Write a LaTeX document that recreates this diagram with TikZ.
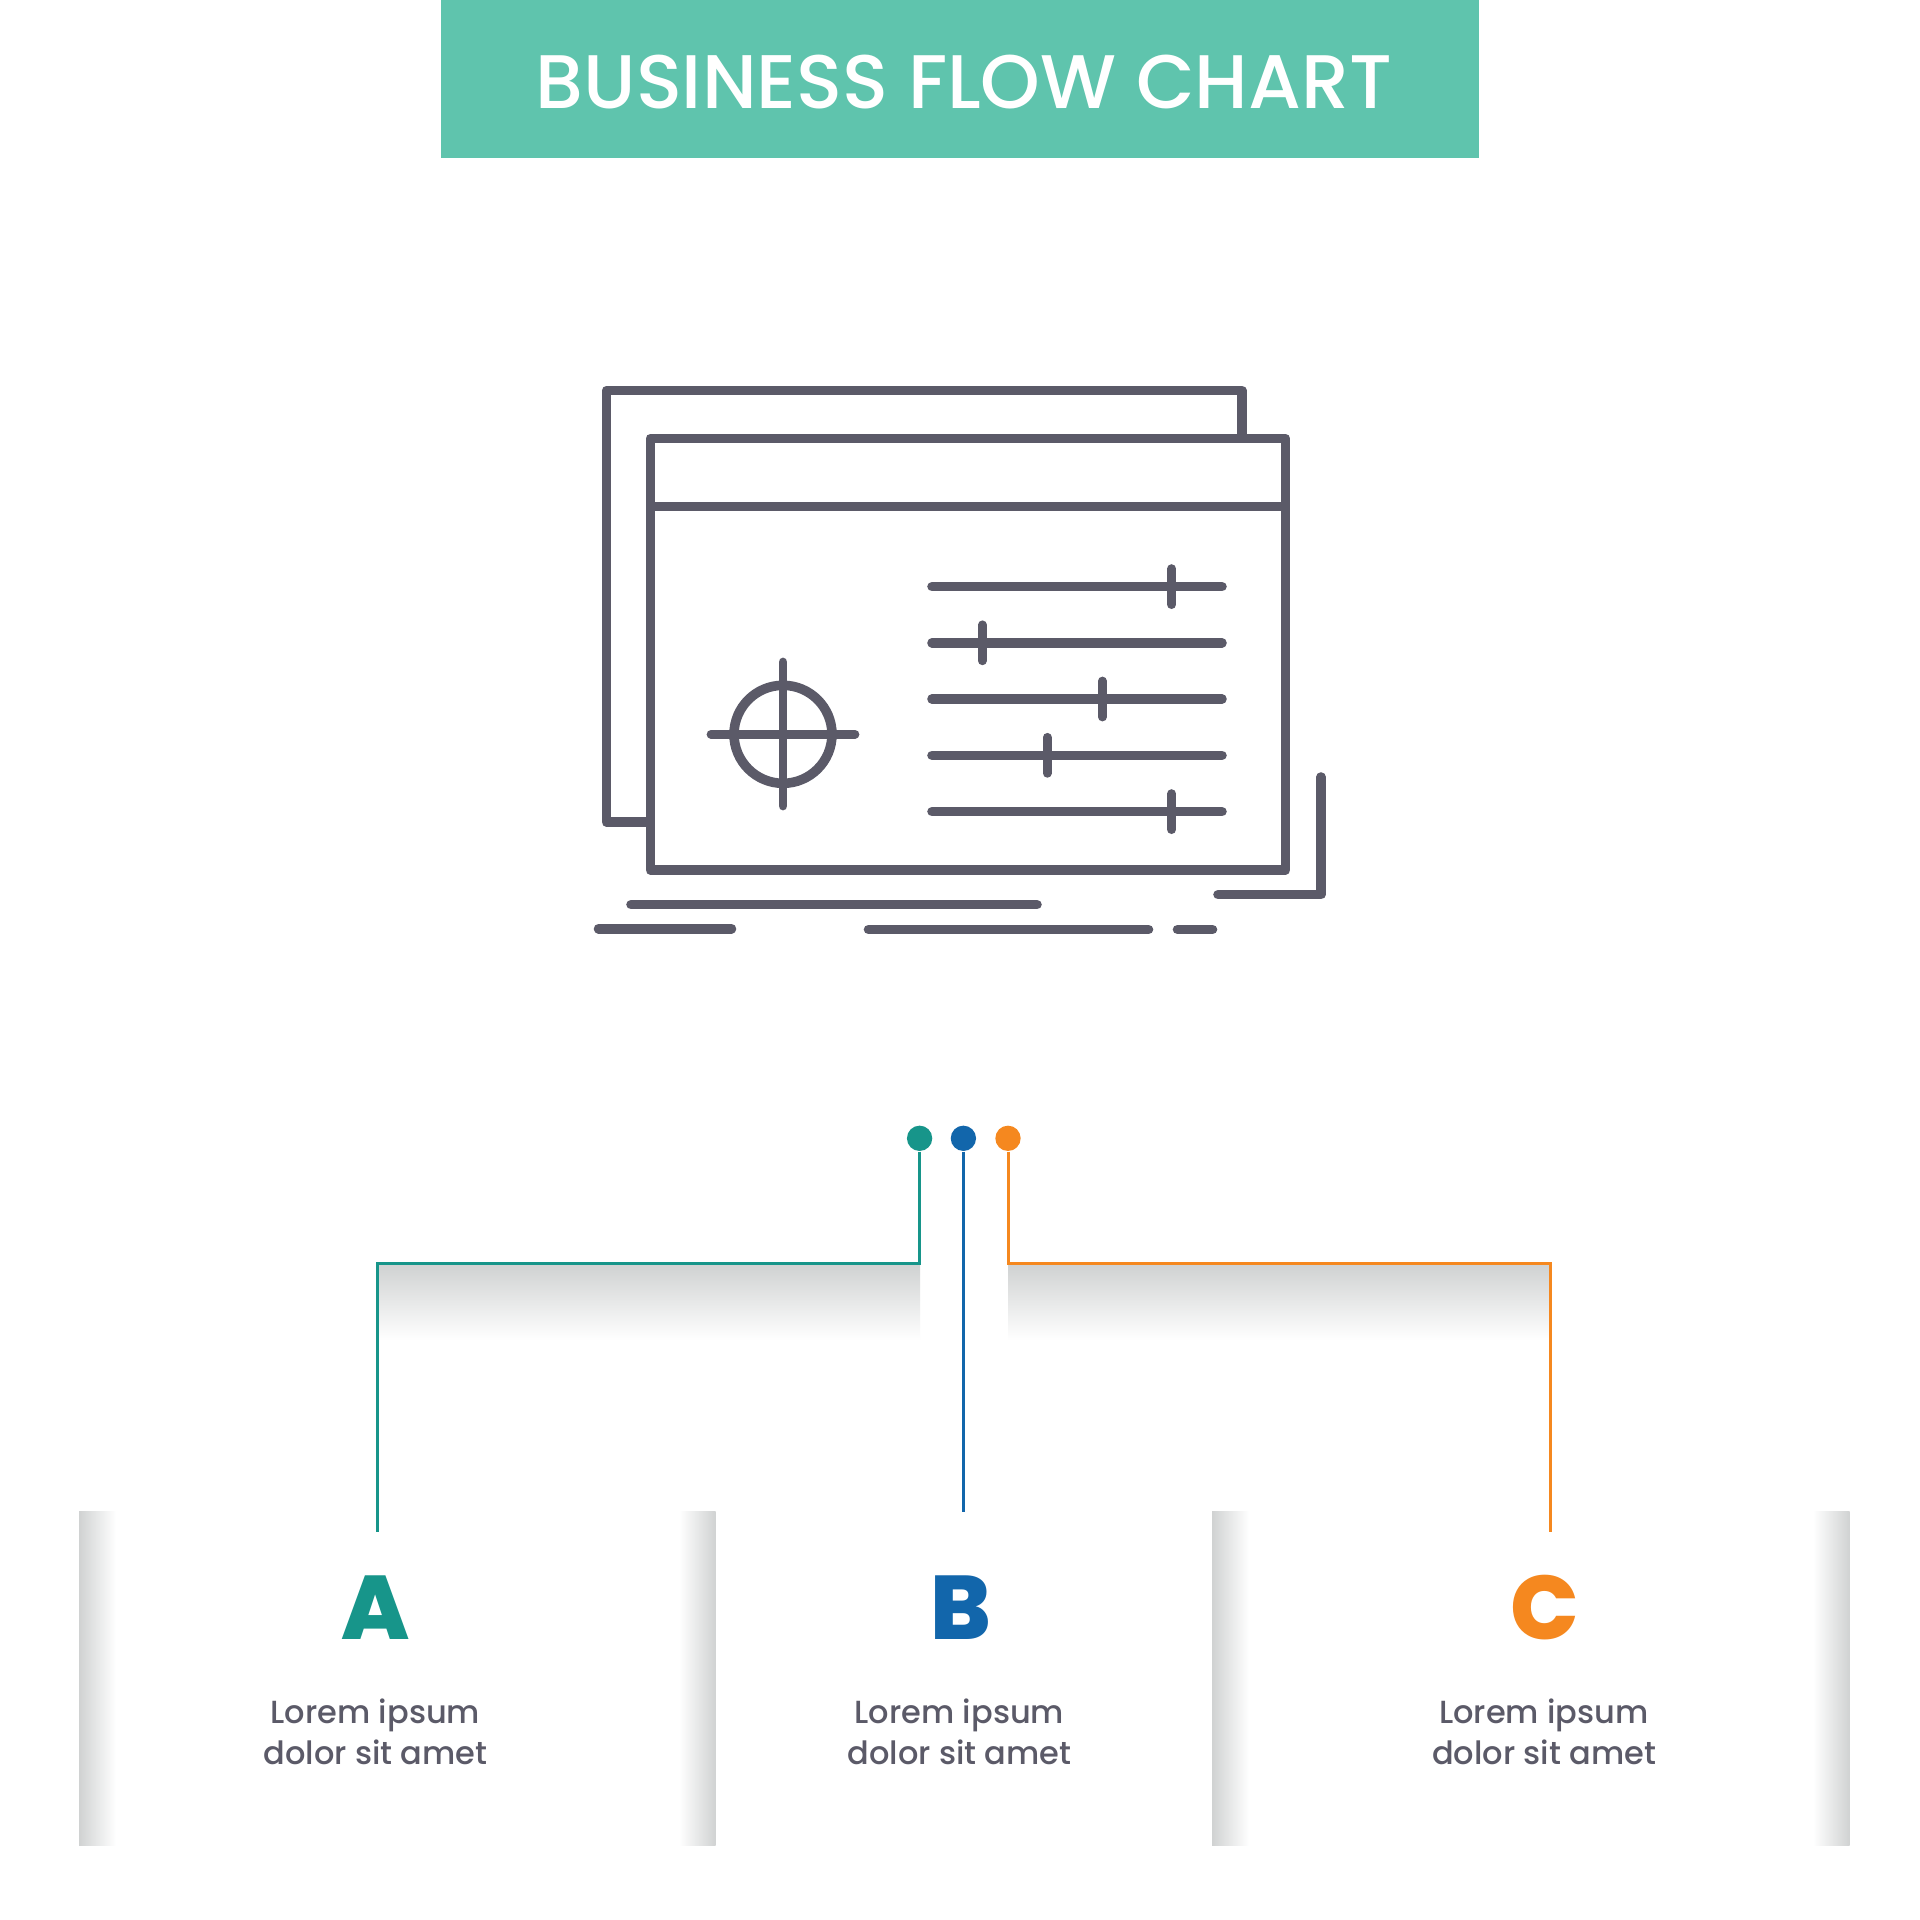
\documentclass[tikz,border=0pt]{standalone}
\usepackage{xcolor}
\usepackage{fontspec}
\setmainfont{Poppins}
\newfontfamily\heavyfont{Poppins ExtraBold}
\newfontfamily\mediumfont{Poppins Medium}
\usetikzlibrary{positioning,fit}
\definecolor{bannergreen}{HTML}{5FC4AD}
\definecolor{icongrey}{HTML}{5B5A68}
\definecolor{tealA}{HTML}{17958A}
\definecolor{blueB}{HTML}{1266AB}
\definecolor{orangeC}{HTML}{F5881F}
\definecolor{shadowgrey}{HTML}{D0D2D2}
\tikzset{
  icon/.style={draw=icongrey,line width=9.6*.2835pt},
  iconround/.style={icon,line cap=round,line join=round},
  knob/.style={draw=icongrey,line width=8.8*.2835pt,line cap=round},
  dotnode/.style={circle,fill=#1,inner sep=0pt,minimum size=25.4*.2835pt},
  wire/.style={draw=#1,line width=3*.2835pt},
  letter/.style={font=\heavyfont\fontsize{25.7}{26}\selectfont,text=#1,anchor=base,inner sep=0pt},
  lorem/.style={font=\mediumfont\fontsize{9.1}{11.5}\selectfont,text=icongrey,align=center,inner sep=0pt}
}
\begin{document}
\begin{tikzpicture}[x=.01cm,y=-.01cm]
\useasboundingbox (0,0) rectangle (1920,1920);
\fill[white] (0,0) rectangle (1920,1920);
% title
\fill[bannergreen] (441,0) rectangle (1479,158);
\node[anchor=base,text=white,inner sep=0pt,font=\mediumfont\fontsize{21.6}{24}\selectfont] (title) at (964,108) {BUSINESS FLOW CHART};
% back window and front window
\draw[iconround] (650,822) -- (606.4,822) -- (606.4,390.6) -- (1242,390.6) -- (1242,438);
\draw[iconround] (650.3,438.5) rectangle (1285.5,870);
\draw[icon] (650.3,506.6) -- (1285.5,506.6);
% target
\draw[icon] (783,734.3) circle (49);
\draw[knob] (783,662) -- (783,806);
\draw[knob] (711,734.3) -- (855,734.3);
% sliders
\draw[iconround] (932,586.6) -- (1222,586.6);
\draw[iconround] (932,642.8) -- (1222,642.8);
\draw[iconround] (932,699) -- (1222,699);
\draw[iconround] (932,755.3) -- (1222,755.3);
\draw[iconround] (932,811.6) -- (1222,811.6);
\draw[knob] (1171.7,568.6) -- (1171.7,604.6);
\draw[knob] (982.4,624.8) -- (982.4,660.8);
\draw[knob] (1102.4,681) -- (1102.4,717);
\draw[knob] (1047.2,737.3) -- (1047.2,773.3);
\draw[knob] (1171.7,793.6) -- (1171.7,829.6);
% corner and floor lines
\draw[iconround] (1321,777) -- (1321,894.6) -- (1218,894.6);
\draw[iconround] (631,904.6) -- (1037,904.6);
\draw[iconround] (598.5,928.7) -- (731.5,928.7);
\draw[iconround] (868.5,929.5) -- (1148.5,929.5);
\draw[iconround] (1177.5,929.5) -- (1212.5,929.5);
% shadows
\shade[top color=shadowgrey,bottom color=white] (377,1265) rectangle (920,1340);
\shade[top color=shadowgrey,bottom color=white] (1008,1265) rectangle (1550,1340);
\shade[left color=shadowgrey,right color=white] (79,1511.7) rectangle (116,1845.7);
\shade[left color=white,right color=shadowgrey] (679,1511.7) rectangle (715.6,1845.7);
\shade[left color=shadowgrey,right color=white] (1212,1511.7) rectangle (1249,1845.7);
\shade[left color=white,right color=shadowgrey] (1813,1511.7) rectangle (1849.7,1845.7);
% dots and connectors
\node[dotnode=tealA] (dotA) at (919.6,1138.3) {};
\node[dotnode=blueB] (dotB) at (963.4,1138.3) {};
\node[dotnode=orangeC] (dotC) at (1008,1138.3) {};
\coordinate (bendA) at (377.5,1263.7);
\coordinate (endA) at (377.5,1531.7);
\coordinate (endB) at (963.4,1511.7);
\coordinate (bendC) at (1550,1263.7);
\coordinate (endC) at (1550,1531.7);
\draw[wire=tealA] (dotA) |- (bendA) -- (endA);
\draw[wire=blueB] (dotB) -- (endB);
\draw[wire=orangeC] (dotC) |- (bendC) -- (endC);
% labels
\node[letter=tealA] (letterA) at (376,1639.7) {A};
\node[letter=blueB] (letterB) at (961,1639.7) {B};
\node[letter=orangeC] (letterC) at (1544.5,1639.7) {C};
\node[lorem] (textA) at (375.5,1732) {Lorem ipsum\\dolor sit amet};
\node[lorem] (textB) at (959.5,1732) {Lorem ipsum\\dolor sit amet};
\node[lorem] (textC) at (1544,1732) {Lorem ipsum\\dolor sit amet};
\end{tikzpicture}
\end{document}
